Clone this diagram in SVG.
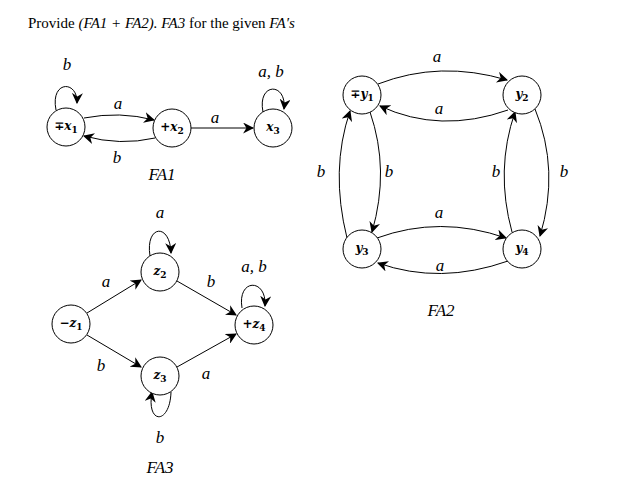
<svg xmlns="http://www.w3.org/2000/svg" width="617" height="483" viewBox="0 0 617 483">
<style>
.n{fill:#fff;stroke:#000;stroke-width:1}
.e{fill:none;stroke:#000;stroke-width:1;marker-end:url(#ah)}
.t{font-family:"Liberation Serif",serif;font-style:italic;font-size:17px;text-anchor:middle}
.s{font-family:"DejaVu Serif",serif;font-style:italic;font-weight:bold;font-size:12px;text-anchor:middle}
.u{font-size:9px;font-style:normal}
.b{font-family:"Liberation Serif",serif;font-size:15px}
</style>
<defs><marker id="ah" viewBox="0 0 10 10" refX="9" refY="5" markerWidth="11" markerHeight="11" markerUnits="userSpaceOnUse" orient="auto"><path d="M0,0 L10,5 L0,10 L3,5 Z"/></marker></defs>
<rect width="617" height="483" fill="#fff"/>
<text x="28" y="28" class="b">Provide  <tspan font-style="italic">(FA1 + FA2). FA3</tspan>  for the given <tspan font-style="italic">FA′s</tspan></text>
<g id="connectors">
<path class="e" d="M56,110 C50,80 78,80 77,103"/>
<path class="e" d="M84,118 Q120,111 154,120"/>
<path class="e" d="M155,138 Q120,146 84,136"/>
<path class="e" d="M191,128 L253,128"/>
<path class="e" d="M263,112 C257,82 287,82 284,109"/>
<path class="e" d="M378,84 Q440,60 507,80"/>
<path class="e" d="M508,110 Q440,134 380,106"/>
<path class="e" d="M370,112 Q390,170 372,232"/>
<path class="e" d="M347,238 Q330,170 350,111"/>
<path class="e" d="M377,238 Q440,215 506,238"/>
<path class="e" d="M508,261 Q440,285 378,263"/>
<path class="e" d="M535,109 Q560,170 540,236"/>
<path class="e" d="M512,232 Q495,170 515,112"/>
<path class="e" d="M150,256 C145,225 170,222 171,253"/>
<path class="e" d="M87,313 L141,280"/>
<path class="e" d="M87,335 L141,367"/>
<path class="e" d="M177,281 L236,315"/>
<path class="e" d="M177,367 L236,334"/>
<path class="e" d="M242,308 C237,278 267,278 265,306"/>
<path class="e" d="M171,392 C170,425 146,425 152,392"/>
</g>
<g class="t">
<text x="67" y="70">b</text><text x="118" y="109">a</text><text x="117" y="163">b</text>
<text x="215" y="123">a</text><text x="271" y="77">a, b</text><text x="162" y="180">FA1</text>
<text x="437" y="62">a</text><text x="439" y="114">a</text><text x="321" y="177">b</text><text x="389" y="177">b</text>
<text x="496" y="177">b</text><text x="564" y="177">b</text><text x="439" y="218">a</text><text x="440" y="271">a</text>
<text x="441" y="316">FA2</text>
<text x="160" y="218">a</text><text x="106" y="287">a</text><text x="211" y="287">b</text><text x="254" y="272">a, b</text>
<text x="101" y="371">b</text><text x="206" y="379">a</text><text x="160" y="443">b</text><text x="160" y="473">FA3</text>
</g>
<g id="x1"><circle class="n" cx="66" cy="127" r="19"/><text class="s" x="66" y="130">∓x<tspan class="u" dy="3">1</tspan></text></g>
<g id="x2"><circle class="n" cx="172" cy="128" r="19"/><text class="s" x="172" y="131">+x<tspan class="u" dy="3">2</tspan></text></g>
<g id="x3"><circle class="n" cx="273" cy="128" r="19"/><text class="s" x="273" y="131">x<tspan class="u" dy="3">3</tspan></text></g>
<g id="y1"><circle class="n" cx="362" cy="95" r="19"/><text class="s" x="362" y="98">∓y<tspan class="u" dy="3">1</tspan></text></g>
<g id="y2"><circle class="n" cx="522" cy="95" r="19"/><text class="s" x="522" y="98">y<tspan class="u" dy="3">2</tspan></text></g>
<g id="y3"><circle class="n" cx="362" cy="249" r="19"/><text class="s" x="362" y="252">y<tspan class="u" dy="3">3</tspan></text></g>
<g id="y4"><circle class="n" cx="522" cy="249" r="19"/><text class="s" x="522" y="252">y<tspan class="u" dy="3">4</tspan></text></g>
<g id="z1"><circle class="n" cx="71" cy="324" r="19"/><text class="s" x="71" y="327">−z<tspan class="u" dy="3">1</tspan></text></g>
<g id="z2"><circle class="n" cx="160" cy="272" r="19"/><text class="s" x="160" y="275">z<tspan class="u" dy="3">2</tspan></text></g>
<g id="z3"><circle class="n" cx="160" cy="376" r="19"/><text class="s" x="160" y="379">z<tspan class="u" dy="3">3</tspan></text></g>
<g id="z4"><circle class="n" cx="254" cy="325" r="19"/><text class="s" x="254" y="328">+z<tspan class="u" dy="3">4</tspan></text></g>
</svg>
